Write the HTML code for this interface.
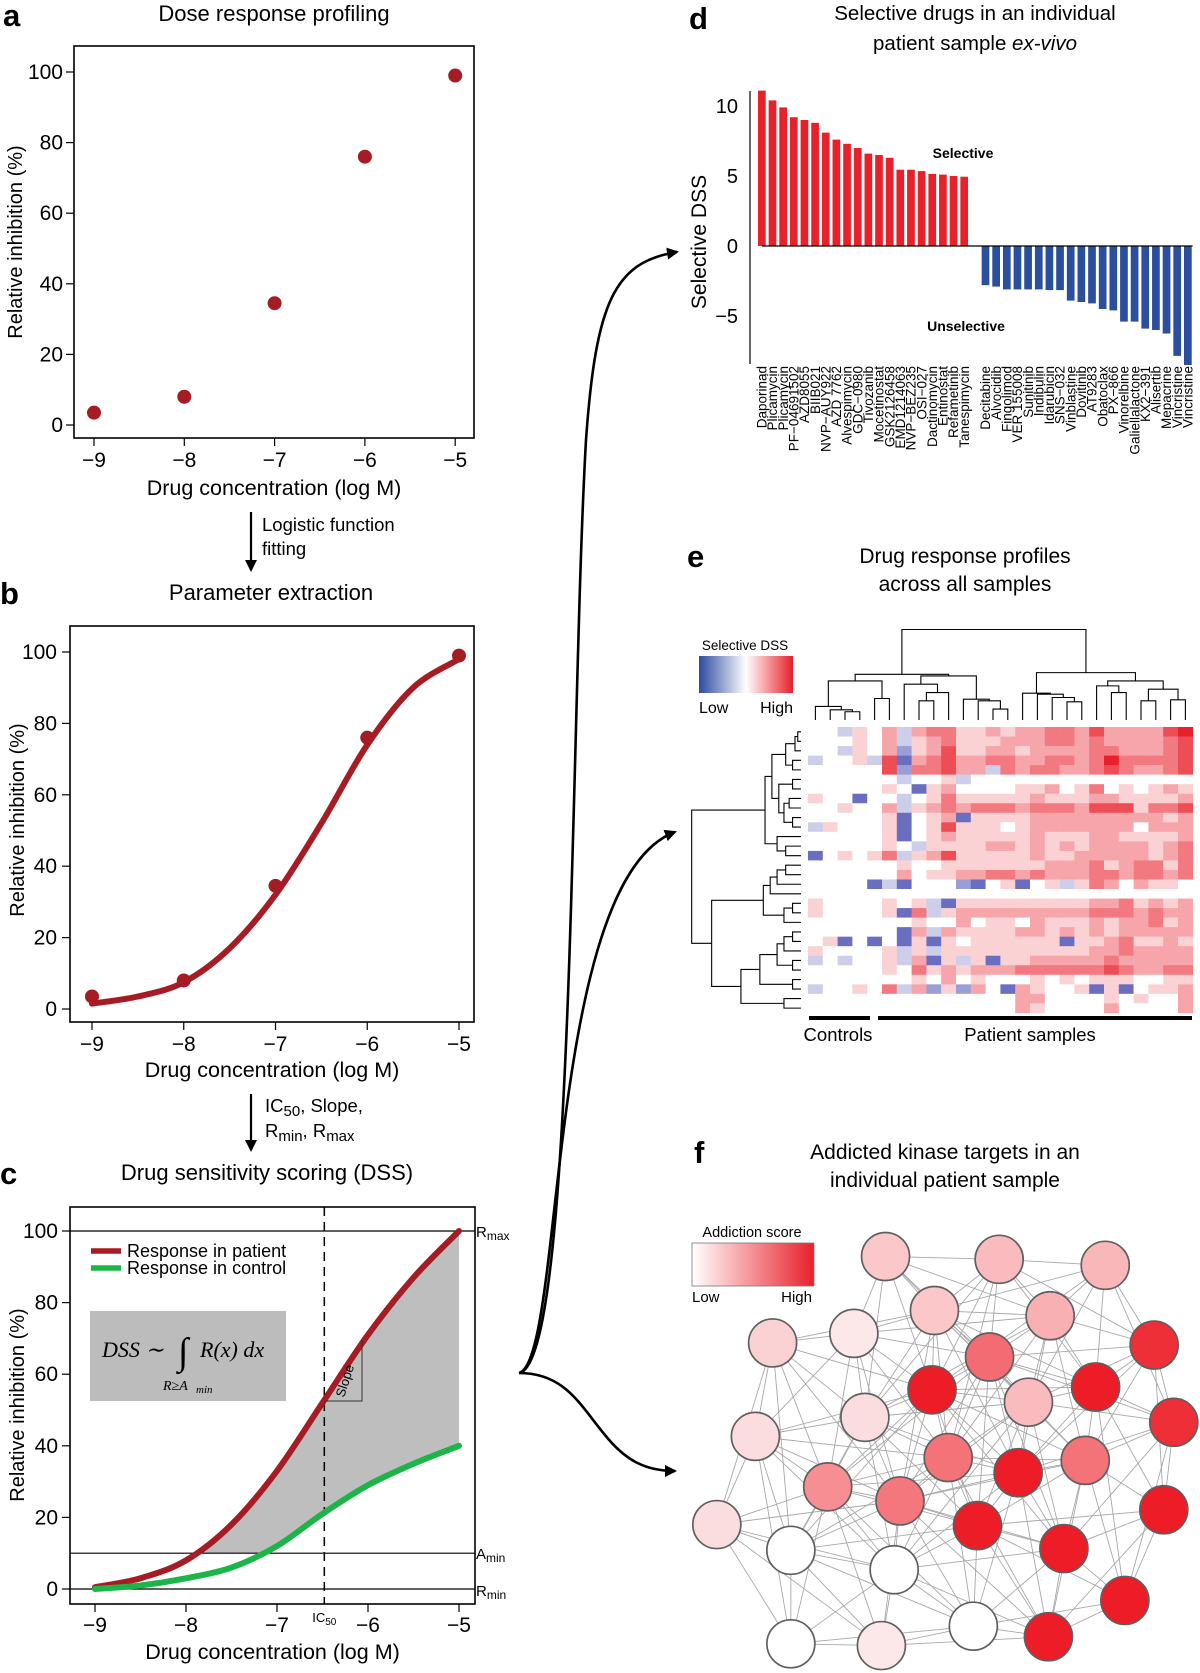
<!DOCTYPE html>
<html><head><meta charset="utf-8"><style>
html,body{margin:0;padding:0;background:#fff;}
svg{display:block;font-family:"Liberation Sans",Arial,sans-serif;}
</style></head><body>
<svg id="fig" width="1200" height="1673" viewBox="0 0 1200 1673" xmlns="http://www.w3.org/2000/svg">
<defs>
<linearGradient id="gDSS" x1="0" x2="1" y1="0" y2="0"><stop offset="0" stop-color="#2c4aa0"/><stop offset="0.5" stop-color="#ffffff"/><stop offset="1" stop-color="#e8202a"/></linearGradient>
<linearGradient id="gAdd" x1="0" x2="1" y1="0" y2="0"><stop offset="0" stop-color="#ffffff"/><stop offset="1" stop-color="#e8202a"/></linearGradient>
<marker id="ah" markerWidth="12" markerHeight="12" refX="10" refY="6" orient="auto" markerUnits="userSpaceOnUse"><path d="M0,0 L12,6 L0,12 z" fill="#000"/></marker>
</defs>
<g id="root"></g>
</svg>
<script>
// ---------- data ----------
const concTicks = [-9,-8,-7,-6,-5];
const inhTicks = [0,20,40,60,80,100];
const doseX = [-9,-8,-7,-6,-5];
const doseY = [3.5,8,34.5,76,99];
const fitX = [-9,-8.5,-8,-7.5,-7,-6.5,-6,-5.5,-5];
const fitY = [1.5,3.5,7.5,17,32,52,74,90,98];
const patientY = [0.5,3,8,18,33,52,71,87,100];
const controlY = [0,1,3,6,12,21,29,35,40];
const aMin = 10;
const ic50 = -6.48;
const selNames = ["Daporinad","Plicamycin","Plicamycin","PF\u221204691502","AZD8055","BIIB021","NVP\u2212AUY922","AZD 7762","Alvespimycin","GDC\u22120980","Tivozanib","Mocetinostat","GSK2126458","EMD1214063","NVP\u2212BEZ235","OSI\u2212027","Dactinomycin","Entinostat","Refametinib","Tanespimycin"];
const selValues = [11.1,10.4,9.9,9.2,9.0,8.8,8.1,7.6,7.3,7.0,6.6,6.5,6.3,5.45,5.45,5.35,5.15,5.1,5.0,4.95];
const unselNames = ["Decitabine","Alvocidib","Fingolimod","VER 155008","Sunitinib","Indibulin","Idarubicin","SNS\u2212032","Vinblastine","Dovitinib","AT9283","Obatoclax","PX\u2212866","Vinorelbine","Galiellalactone","KX2\u2212391","Alisertib","Mepacrine","Vincristine","Vincristine"];
const unselValues = [-2.8,-2.9,-3.1,-3.1,-3.1,-3.1,-3.15,-3.15,-3.9,-4.0,-4.1,-4.5,-4.6,-5.4,-5.4,-5.9,-6.0,-6.25,-7.85,-8.5];
const dssTicks = [-5,0,5,10];
const heat = [
[0,0,-1,1,0,2,-1,2,3,3,1,1,2,1,2,2,3,3,2,4,2,2,2,2,4,5],
[0,0,0,1,0,2,-1,1,2,3,1,1,1,2,2,2,3,3,2,3,2,2,2,2,3,4],
[0,0,-1,1,0,2,-2,1,2,4,1,1,2,2,1,2,2,2,2,3,3,2,2,2,3,4],
[-1,0,0,1,-1,4,-3,2,3,4,2,2,3,3,2,2,3,3,2,3,5,3,3,3,3,4],
[0,0,0,0,0,4,-2,3,3,4,2,2,-1,3,2,3,3,2,2,3,4,3,2,2,3,4],
[0,0,0,0,0,0,-1,0,0,1,-1,0,0,0,0,0,0,0,0,0,0,0,0,0,0,0],
[0,0,0,0,0,1,0,-3,1,2,0,0,0,0,1,1,2,0,1,3,0,1,0,1,2,1],
[1,0,0,-3,0,0,-1,0,1,3,1,1,1,1,1,2,1,1,1,2,2,1,1,1,1,2],
[0,0,1,0,0,2,-1,1,2,3,2,3,3,3,2,3,3,3,2,4,4,4,1,3,3,4],
[0,0,0,0,0,1,-3,0,1,2,-3,1,1,1,1,2,2,2,2,2,2,2,2,2,1,2],
[-1,1,0,0,0,1,-3,0,1,4,1,1,1,0,1,2,2,2,2,2,2,2,0,2,2,2],
[0,0,0,0,0,1,-3,0,1,2,1,1,1,1,1,2,1,1,1,2,2,1,1,1,1,2],
[0,0,0,0,0,1,0,-1,1,1,1,1,2,2,1,2,1,2,1,2,2,2,2,1,2,3],
[-3,0,1,0,1,3,-1,1,2,4,1,1,1,1,1,2,1,1,2,2,2,2,2,1,2,3],
[0,0,0,0,0,0,1,0,0,1,1,1,1,1,1,1,2,2,2,3,1,2,3,3,1,3],
[0,0,0,0,0,0,2,0,1,1,2,2,3,3,2,3,2,2,2,3,3,2,3,3,2,3],
[0,0,0,0,-3,-1,-3,0,0,0,-2,-3,0,1,-3,0,1,-1,1,3,2,0,2,1,1,0],
[0,0,0,0,0,0,0,0,0,0,0,0,0,0,0,0,0,0,0,0,0,0,0,0,0,0],
[1,0,0,0,0,1,0,1,-1,-3,1,1,1,1,1,1,1,1,1,2,2,3,1,2,1,2],
[1,0,0,0,0,1,-3,3,-1,1,2,2,2,2,2,2,2,2,2,3,3,3,2,3,2,2],
[0,0,0,0,0,0,0,1,0,0,2,0,1,1,0,2,1,1,1,2,1,2,2,3,1,2],
[0,0,0,0,0,0,-3,2,-1,2,1,1,1,1,2,2,1,2,1,2,1,2,2,2,2,2],
[0,1,-3,0,-3,0,-3,1,-3,1,0,1,1,1,1,1,1,-3,1,1,2,3,1,1,2,1],
[1,0,0,0,0,1,-1,1,-1,1,1,1,1,1,1,1,1,1,1,2,2,3,2,2,2,2],
[-1,0,-1,0,0,1,-1,2,-3,1,-1,1,-3,1,1,2,2,2,2,2,3,2,2,2,2,2],
[0,0,0,0,0,1,0,3,1,2,1,2,2,2,3,3,3,3,3,3,4,3,2,2,3,3],
[0,0,0,0,0,0,0,1,0,2,0,1,0,0,0,1,0,1,0,1,1,1,0,0,1,1],
[-1,0,0,1,0,3,-1,2,-2,1,-2,2,0,-3,2,1,0,0,1,-3,1,-3,0,1,1,2],
[0,0,0,0,0,0,0,0,0,0,0,0,0,0,2,2,0,0,0,0,1,0,1,0,0,2],
[0,0,0,0,0,0,0,0,0,0,0,0,0,0,2,1,0,0,0,0,2,0,0,0,0,2]
];
const colTree = [[2,3,548],[1,"A",542],[0,"B",532],[4,5,508],["C","D",455],[7,8,515],["F",9,490],[6,"G",465],[12,13,540],[11,"I",515],[10,"J",510],["H","K",440],["E","L",435],[17,18,518],[16,"N",505],[15,"O",495],[14,"P",492],[20,21,490],[19,"R",470],[22,23,515],[24,25,512],["T","U",480],["S","V",455],["Q","W",430],["M","X",300]];
const rowTree = [[0,1,400],["a",2,392],[3,4,385],["b","c",365],[5,6,385],[7,8,375],[9,10,385],["f","g",360],["e","h",345],["d","i",325],[12,13,365],[11,"k",340],["j","l",305],[14,15,365],["n",16,340],["o",17,320],[18,19,385],["q",20,360],["p","r",300],[21,22,385],["t",23,360],[24,25,385],["u","v",340],[26,27,385],["w","x",290],[28,29,360],["y","z",235],["s","A",150],["m","B",92]];
const nodeX = [655,985,1293,797,1133,327,563,957,1435,790,1265,1070,595,277,1492,837,1040,1235,487,697,922,1463,165,380,680,1173,1350,910,1128,380,643];
const nodeY = [387,395,412,540,555,632,605,672,638,765,757,800,843,897,857,957,1000,965,1040,1080,1150,1105,1147,1220,1275,1215,1362,1435,1465,1485,1490];
const nodeScore = [0.25,0.3,0.32,0.25,0.35,0.2,0.1,0.65,0.92,1,1,0.3,0.15,0.15,0.92,0.62,1,0.62,0.5,0.6,1,1,0.15,0,0,1,1,0,1,0,0.1];

// ---------- helpers ----------
const NS="http://www.w3.org/2000/svg";
const root=document.getElementById('root');
function mk(tag,attrs,parent,txt){const e=document.createElementNS(NS,tag);for(const k in attrs)e.setAttribute(k,attrs[k]);if(txt!==undefined)e.textContent=txt;(parent||root).appendChild(e);return e;}
function grp(name){const g=mk('g',{});return g;}
function txt(parent,x,y,s,size,extra,name){const t=mk('text',Object.assign({x:x,y:y,'font-size':size},extra||{}),parent,s);return t;}
function smooth(pts){let d="M"+pts[0][0]+","+pts[0][1];for(let i=0;i<pts.length-1;i++){const p0=pts[Math.max(0,i-1)],p1=pts[i],p2=pts[i+1],p3=pts[Math.min(pts.length-1,i+2)];const c1x=p1[0]+(p2[0]-p0[0])/6,c1y=p1[1]+(p2[1]-p0[1])/6,c2x=p2[0]-(p3[0]-p1[0])/6,c2y=p2[1]-(p3[1]-p1[1])/6;d+=` C${c1x},${c1y} ${c2x},${c2y} ${p2[0]},${p2[1]}`;}return d;}
const RED="#a61c24";

function doseAxes(g,box,sx,sy,tickLabelY,xlabY,ylabX,ylabY,tickRight){
  const b=mk('rect',{x:box[0],y:box[1],width:box[2]-box[0],height:box[3]-box[1],fill:'none',stroke:'#000','stroke-width':1.6},g);
  
  concTicks.forEach(v=>{mk('line',{x1:sx(v),x2:sx(v),y1:box[3],y2:box[3]+8,stroke:'#000','stroke-width':1.2},g);
    txt(g,sx(v),tickLabelY,"\u2212"+Math.abs(v),21,{'text-anchor':'middle'},'x-tick-label');});
  inhTicks.forEach(v=>{mk('line',{x1:box[0]-8,x2:box[0],y1:sy(v),y2:sy(v),stroke:'#000','stroke-width':1.2},g);
    txt(g,tickRight,sy(v)+7,String(v),21,{'text-anchor':'end'},'y-tick-label');});
  txt(g,(box[0]+box[2])/2,xlabY,"Drug concentration (log M)",21.5,{'text-anchor':'middle'},'x-axis-title');
  txt(g,0,0,"Relative inhibition (%)",20,{'text-anchor':'middle',transform:`translate(${ylabX},${ylabY}) rotate(-90)`},'y-axis-title');
}

// ---------- panel a ----------
{const g=grp('panel-a');
 txt(g,3,26,"a",31,{'font-weight':'bold'},'panel-label-a');
 txt(g,274,21,"Dose response profiling",22,{'text-anchor':'middle'},'panel-a-title');
 const sx=v=>94+(v+9)*90.3, sy=v=>425-v*3.53;
 doseAxes(g,[74,46,474,438],sx,sy,467,495,22,242,63);
 doseX.forEach((x,i)=>{const c=mk('circle',{cx:sx(x),cy:sy(doseY[i]),r:7,fill:RED},g);});
}
// arrows between a-b and b-c
{const g=grp('flow-arrows-left');
 mk('line',{x1:251,y1:512,x2:251,y2:570,stroke:'#000','stroke-width':2.2,'marker-end':'url(#ah)'},g);
 txt(g,262,531,"Logistic function",18.5,{},'arrow-label-logistic');
 txt(g,262,555,"fitting",18.5,{},'arrow-label-fitting');
 mk('line',{x1:251,y1:1094,x2:251,y2:1150,stroke:'#000','stroke-width':2.2,'marker-end':'url(#ah)'},g);
 const t1=txt(g,265,1112,"",18.5,{},'arrow-label-params');
 t1.innerHTML='IC<tspan font-size="15" dy="4">50</tspan><tspan dy="-4">, Slope,</tspan>';
 const t2=txt(g,265,1137,"",18.5,{},'arrow-label-rminmax');
 t2.innerHTML='R<tspan font-size="15" dy="4">min</tspan><tspan dy="-4">, R</tspan><tspan font-size="15" dy="4">max</tspan>';
}
// ---------- panel b ----------
{const g=grp('panel-b');
 txt(g,0,604,"b",31,{'font-weight':'bold'},'panel-label-b');
 txt(g,271,600,"Parameter extraction",22,{'text-anchor':'middle'},'panel-b-title');
 const sx=v=>92+(v+9)*91.75, sy=v=>1009-v*3.57;
 doseAxes(g,[70,626,474,1022],sx,sy,1051,1077,24,820,57);
 doseX.forEach((x,i)=>{const c=mk('circle',{cx:sx(x),cy:sy(doseY[i]),r:7,fill:RED},g);});
 const p=mk('path',{d:smooth(fitX.map((x,i)=>[sx(x),sy(fitY[i])])),fill:'none',stroke:RED,'stroke-width':6,'stroke-linecap':'round'},g);
 
}
// ---------- panel c ----------
{const g=grp('panel-c');
 txt(g,0,1184,"c",31,{'font-weight':'bold'},'panel-label-c');
 txt(g,267,1180,"Drug sensitivity scoring (DSS)",22,{'text-anchor':'middle'},'panel-c-title');
 const sx=v=>95+(v+9)*91, sy=v=>1589-v*3.58;
 const N=80;const up=[],lo=[];
 function interp(arr,x){const t=(x+9)/0.5;const i=Math.min(Math.floor(t),fitX.length-2);const f=t-i;return arr[i]+(arr[i+1]-arr[i])*f;}
 let start=null;
 for(let k=0;k<=N*4;k++){const x=-9+4*k/(N*4);const pv=interp(patientY,x);if(pv>=aMin){start=x;break;}}
 for(let k=0;k<=N;k++){const x=start+(-5-start)*k/N;up.push([sx(x),sy(interp(patientY,x))]);lo.push([sx(x),sy(Math.max(aMin,interp(controlY,x)))]);}
 let d="M"+up.map(p=>p.join(",")).join(" L")+" L"+lo.reverse().map(p=>p.join(",")).join(" L")+"Z";
 const a=mk('path',{d:d,fill:'#bebebe'},g);
 doseAxes(g,[70,1207,475,1604],sx,sy,1632,1659,24,1405,58);
 [[100,'R','max',1237],[aMin,'A','min',1559],[0,'R','min',1596]].forEach(r=>{
   const l=mk('line',{x1:70,x2:475,y1:sy(r[0]),y2:sy(r[0]),stroke:'#000','stroke-width':1.2},g);
   const t=txt(g,476,r[3],"",15,{},'reference-label');t.innerHTML=r[1]+'<tspan font-size="12" dy="3">'+r[2]+'</tspan>';});
 const ic=mk('line',{x1:sx(ic50),x2:sx(ic50),y1:1207,y2:1604,stroke:'#000','stroke-width':1.5,'stroke-dasharray':'9,6'},g);
 const it=txt(g,sx(ic50),1622,"",13,{'text-anchor':'middle'},'ic50-label');it.innerHTML='IC<tspan font-size="10" dy="3">50</tspan>';
 const pc=mk('path',{d:smooth(fitX.map((x,i)=>[sx(x),sy(patientY[i])])),fill:'none',stroke:RED,'stroke-width':6,'stroke-linecap':'round'},g);
 const cc=mk('path',{d:smooth(fitX.map((x,i)=>[sx(x),sy(controlY[i])])),fill:'none',stroke:'#1db54a','stroke-width':6,'stroke-linecap':'round'},g);
 mk('path',{d:`M${sx(ic50)},1401 L362,1401 L362,1339`,fill:'none',stroke:'#333','stroke-width':1},g);
 txt(g,0,0,"Slope",13,{transform:'translate(344,1398) rotate(-72)'},'slope-label');
 const lg=grp('legend');g.appendChild(lg);
 mk('line',{x1:91,x2:121,y1:1251,y2:1251,stroke:RED,'stroke-width':5.5},lg);
 txt(lg,127,1257,"Response in patient",18,{},'legend-entry-patient');
 mk('line',{x1:91,x2:121,y1:1268,y2:1268,stroke:'#1db54a','stroke-width':5.5},lg);
 txt(lg,127,1274,"Response in control",18,{},'legend-entry-control');
 const fb=mk('rect',{x:90,y:1311,width:196,height:90,fill:'#bcbcbc'},g);
 txt(g,102,1357,"DSS \u223C",22,{'font-family':'Liberation Serif, serif','font-style':'italic'},'formula-lhs');
 txt(g,178,1364,"\u222B",38,{'font-family':'Liberation Serif, serif'},'formula-integral');
 txt(g,200,1357,"R(x) dx",22,{'font-family':'Liberation Serif, serif','font-style':'italic'},'formula-rhs');
 txt(g,163,1390,"R\u2265A",14,{'font-family':'Liberation Serif, serif','font-style':'italic'},'formula-limit');
 txt(g,196,1393,"min",11,{'font-family':'Liberation Serif, serif','font-style':'italic'},'formula-limit-sub');
}
// ---------- big arrows ----------
{const g=grp('flow-arrows-right');
 ['M519,1373 C575,1365 570,720 586,440 C596,300 615,262 677,252',
  'M519,1373 C565,1360 545,880 675,832',
  'M519,1373 C565,1373 580,1405 605,1435 C625,1460 645,1471 675,1471'].forEach(d=>{
  const p=mk('path',{d:d,fill:'none',stroke:'#000','stroke-width':2.6,'marker-end':'url(#ah)'},g);});
}
// ---------- panel d ----------
{const g=grp('panel-d');
 txt(g,689,29,"d",31,{'font-weight':'bold'},'panel-label-d');
 txt(g,975,20,"Selective drugs in an individual",20.5,{'text-anchor':'middle'},'panel-d-title-line1');
 const t=txt(g,975,50,"",20.5,{'text-anchor':'middle'},'panel-d-title-line2');t.innerHTML='patient sample <tspan font-style="italic">ex-vivo</tspan>';
 const y0=246, unit=14.0, step=10.65, x0=758;
 const sy=v=>y0-v*unit;
 const names=selNames.concat(unselNames), vals=selValues.concat(unselValues);
 mk('line',{x1:750,x2:750,y1:91,y2:364,stroke:'#000','stroke-width':1.2},g);
 dssTicks.forEach(v=>txt(g,738,sy(v)+7,(v<0?"\u2212":"")+Math.abs(v),20,{'text-anchor':'end'},'y-tick-label'));
 txt(g,0,0,"Selective DSS",21,{'text-anchor':'middle',transform:`translate(706,242) rotate(-90)`},'y-axis-title');
 vals.forEach((v,i)=>{const slot=i<selValues.length?i:i+1;const x=x0+slot*step;
   const r=mk('rect',{x:x,y:Math.min(sy(v),y0),width:7.7,height:Math.abs(sy(v)-y0),fill:v>=0?'#e8202a':'#2c4e9e'},g);
   
   txt(g,0,0,names[i],13.5,{'text-anchor':'end',transform:`translate(${x+8.5},366) rotate(-90)`},'drug-label');});
 mk('line',{x1:762,x2:x0+41*step-2,y1:y0,y2:y0,stroke:'#000','stroke-width':1.2},g);
 txt(g,963,158,"Selective",14,{'text-anchor':'middle','font-weight':'bold'},'selective-label');
 txt(g,966,331,"Unselective",14,{'text-anchor':'middle','font-weight':'bold'},'unselective-label');
}
// ---------- panel e ----------
{const g=grp('panel-e');
 txt(g,687,567,"e",31,{'font-weight':'bold'},'panel-label-e');
 txt(g,965,563,"Drug response profiles",21,{'text-anchor':'middle'},'panel-e-title-line1');
 txt(g,965,591,"across all samples",21,{'text-anchor':'middle'},'panel-e-title-line2');
 txt(g,745,650,"Selective DSS",13.5,{'text-anchor':'middle'},'colorbar-title');
 const cb=mk('rect',{x:699,y:656,width:94,height:37,fill:'url(#gDSS)'},g);
 txt(g,699,713,"Low",16,{},'colorbar-low');txt(g,793,713,"High",16,{'text-anchor':'end'},'colorbar-high');
 const hx=808, cw=14.8, hy=727, rh=9.53;
 function col(v){if(v>=0){const t=v/5;return `rgb(${Math.round(255-23*t)},${Math.round(255-223*t)},${Math.round(255-213*t)})`;}const t=-v/3;return `rgb(${Math.round(255-150*t)},${Math.round(255-145*t)},${Math.round(255-62*t)})`;}
 heat.forEach((row,r)=>row.forEach((v,c)=>{const e=mk('rect',{x:hx+c*cw,y:hy+r*rh,width:cw+0.3,height:rh+0.3,fill:col(v)},g);
   }));
 function dendro(tree,leafPos,leafBase,toPix,vertical){
   const pos={},hgt={};const labels="ABCDEFGHIJKLMNOPQRSTUVWXYZ";const lower="abcdefghijklmnopqrstuvwxyzAB";
   let d="";
   tree.forEach((m,i)=>{const key=(vertical?labels:lower)[i];
     const get=k=>typeof k==="number"?[leafPos(k),leafBase]:[pos[k],hgt[k]];
     const A=get(m[0]),B=get(m[1]);const h=toPix(m[2]);
     if(vertical){d+=`M${A[0]},${A[1]} V${h} H${B[0]} V${B[1]} `;}else{d+=`M${A[1]},${A[0]} H${h} V${B[0]} H${B[1]} `;}
     pos[key]=(A[0]+B[0])/2;hgt[key]=h;});
   return d;}
 const dc=mk('path',{d:dendro(colTree,k=>hx+cw*(k+0.5),720,z=>530+z/3.015,true),fill:'none',stroke:'#000','stroke-width':1.1},g);
 
 const dr=mk('path',{d:dendro(rowTree,k=>hy+rh*(k+0.5),801,z=>660+z/2.904,false),fill:'none',stroke:'#000','stroke-width':1.1},g);
 
 mk('rect',{x:809,y:1016,width:61,height:4,fill:'#000'},g);
 mk('rect',{x:878,y:1016,width:314,height:4,fill:'#000'},g);
 txt(g,838,1041,"Controls",18.5,{'text-anchor':'middle'},'controls-label');
 txt(g,1030,1041,"Patient samples",18.5,{'text-anchor':'middle'},'patient-samples-label');
}
// ---------- panel f ----------
{const g=grp('panel-f');
 txt(g,694,1163,"f",31,{'font-weight':'bold'},'panel-label-f');
 txt(g,945,1159,"Addicted kinase targets in an",21,{'text-anchor':'middle'},'panel-f-title-line1');
 txt(g,945,1187,"individual patient sample",21,{'text-anchor':'middle'},'panel-f-title-line2');
 const px=z=>660+z/2.904, py=z=>1120+z/2.835;
 const eg=grp('network-edges');g.appendChild(eg);
 for(let i=0;i<nodeX.length;i++)for(let j=i+1;j<nodeX.length;j++){const dx=nodeX[i]-nodeX[j],dy=nodeY[i]-nodeY[j];const dd=Math.hypot(dx,dy);
   if(dd<620&&((i*7+j*3)%5!==0||dd<380)){mk('line',{x1:px(nodeX[i]),y1:py(nodeY[i]),x2:px(nodeX[j]),y2:py(nodeY[j]),stroke:'#a8a8a8','stroke-width':0.9},eg);}}
 nodeX.forEach((x,i)=>{const t=nodeScore[i];const c=`rgb(${Math.round(255-18*t)},${Math.round(255-226*t)},${Math.round(255-216*t)})`;
   const n=mk('circle',{cx:px(x),cy:py(nodeY[i]),r:24,fill:c,stroke:'#5f5f5f','stroke-width':1.7},g);
   });
 txt(g,752,1237,"Addiction score",14.5,{'text-anchor':'middle'},'legend-title');
 const lb=mk('rect',{x:692,y:1243,width:122,height:43,fill:'url(#gAdd)',stroke:'#777','stroke-width':0.8},g);
 txt(g,692,1302,"Low",15,{},'colorbar-low');txt(g,812,1302,"High",15,{'text-anchor':'end'},'colorbar-high');
}
</script>
</body></html>
